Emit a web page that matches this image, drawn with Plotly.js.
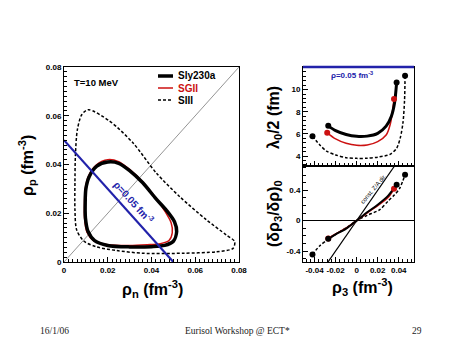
<!DOCTYPE html>
<html><head><meta charset="utf-8">
<script src="https://cdn.plot.ly/plotly-3.0.1.min.js"></script>
<style>html,body{margin:0;padding:0;background:#fff}#c{width:474px;height:355px}</style>
</head><body><div id="c"></div>
<script>
// ---- main panel: rho_p vs rho_n spinodal contours ----
const slyRn = [0.0100,0.0115,0.015,0.020,0.025,0.030,0.036,0.042,0.047,0.0505,0.0515,0.050,0.046,0.040,0.030,0.020,0.014,0.011,0.0098,0.0097,0.0100];
const slyRp = [0.030,0.035,0.0393,0.041,0.0405,0.0375,0.0325,0.026,0.021,0.0165,0.0125,0.0085,0.0068,0.0063,0.0062,0.0068,0.0088,0.0125,0.018,0.025,0.030];
const sgiiRn = [0.0097,0.0113,0.015,0.020,0.025,0.030,0.036,0.042,0.046,0.049,0.0495,0.048,0.044,0.038,0.030,0.020,0.0135,0.0105,0.0094,0.0094,0.0097];
const sgiiRp = [0.030,0.0355,0.040,0.042,0.0412,0.038,0.0328,0.0262,0.021,0.016,0.012,0.0088,0.0075,0.0071,0.0068,0.0071,0.0088,0.0122,0.018,0.025,0.030];
const siiiRn = [0.0111,0.021,0.0316,0.0423,0.0529,0.0651,0.0742,0.078,0.0773,0.0697,0.0545,0.036,0.024,0.0149,0.0092,0.0058,0.005,0.005,0.0052,0.0061,0.0081,0.0111];
const siiiRp = [0.0625,0.0577,0.0488,0.0364,0.0268,0.0173,0.0111,0.0084,0.0056,0.0042,0.0036,0.0036,0.0047,0.0062,0.0085,0.0131,0.0214,0.0323,0.0433,0.0542,0.0604,0.0625];
const diagX = [0, 0.08], diagY = [0, 0.08];
const isoX = [0, 0.05], isoY = [0.05, 0];

// ---- right top: lambda0/2 vs rho3 ----
const lamSlyX = [-0.027,-0.02,-0.01,0,0.01,0.02,0.028,0.033,0.036,0.038];
const lamSlyY = [6.73,6.3,5.95,5.78,5.8,6.05,6.7,7.6,8.8,10.66];
const lamSgX = [-0.028,-0.02,-0.01,0,0.01,0.02,0.028,0.032,0.0355];
const lamSgY = [6.1,5.55,5.15,4.97,5.0,5.3,5.9,6.9,9.15];
const lamS3X = [-0.042,-0.035,-0.0286,-0.02,-0.01,0,0.01,0.02,0.0317,0.038,0.0415,0.044,0.0455,0.046];
const lamS3Y = [5.8,5.0,4.45,4.1,3.85,3.79,3.8,3.9,4.15,4.7,5.67,7.0,9.0,11.25];

// ---- right bottom: (d rho3 / d rho)_0 vs rho3 ----
const dirSlyX = [-0.027,-0.02,-0.01,0,0.01,0.02,0.03,0.038];
const dirSlyY = [-0.24,-0.18,-0.105,0,0.11,0.21,0.33,0.474];
const dirSgX = [-0.027,-0.02,-0.01,0,0.01,0.02,0.03,0.0355];
const dirSgY = [-0.235,-0.175,-0.1,0,0.105,0.2,0.31,0.42];
const dirS3X = [-0.042,-0.035,-0.027,-0.02,-0.01,0,0.01,0.022,0.03,0.036,0.041,0.046];
const dirS3Y = [-0.447,-0.33,-0.245,-0.18,-0.095,0,0.07,0.145,0.26,0.34,0.43,0.605];
const zaX = [-0.029, 0.036], zaY = [-0.58, 0.72];

const BLK = '#000', RED = '#cc1111', BLUE = '#2222aa';
const DASH = '3px,2px';
const ends = a => [a[0], a[a.length-1]];
function line(x,y,color,width,dash,xa,ya,shape){
  return {x:x,y:y,mode:'lines',type:'scatter',xaxis:xa,yaxis:ya,showlegend:false,hoverinfo:'skip',
    line:{color:color,width:width,dash:dash||'solid',shape:shape||'spline',smoothing:0.8}};
}
function dots(x,y,color,xa,ya){
  return {x:ends(x),y:ends(y),mode:'markers',type:'scatter',xaxis:xa,yaxis:ya,showlegend:false,hoverinfo:'skip',
    marker:{color:color,size:6}};
}
const traces = [
  line(diagX,diagY,'#666',0.7,'solid','x','y','linear'),
  line(siiiRn,siiiRp,BLK,1.5,DASH,'x','y'),
  line(sgiiRn,sgiiRp,RED,1.5,'solid','x','y'),
  line(slyRn,slyRp,BLK,3.5,'solid','x','y'),
  line(isoX,isoY,BLUE,2.2,'solid','x','y','linear'),

  line(lamS3X,lamS3Y,BLK,1.5,DASH,'x2','y2'),
  line(lamSgX,lamSgY,RED,1.5,'solid','x2','y2'),
  line(lamSlyX,lamSlyY,BLK,3,'solid','x2','y2'),
  dots(lamS3X,lamS3Y,BLK,'x2','y2'),
  dots(lamSgX,lamSgY,RED,'x2','y2'),
  dots(lamSlyX,lamSlyY,BLK,'x2','y2'),

  line(zaX,zaY,BLK,1.2,'solid','x3','y3','linear'),
  line(dirS3X,dirS3Y,BLK,1.5,DASH,'x3','y3'),
  line(dirSgX,dirSgY,RED,1.8,'solid','x3','y3'),
  line(dirSlyX,dirSlyY,BLK,2,'solid','x3','y3'),
  dots(dirS3X,dirS3Y,BLK,'x3','y3'),
  dots(dirSgX,dirSgY,RED,'x3','y3'),
  dots(dirSlyX,dirSlyY,BLK,'x3','y3')
];

const W = 474, H = 355;
const px = v => v / W, py = v => 1 - v / H;
const tickFont = {family:'Liberation Sans, Arial, sans-serif', size:8, color:'#000', weight:'bold'};
function ax(extra){
  return Object.assign({showline:true, linecolor:'#000', linewidth:1, mirror:true, ticks:'inside',
    ticklen:5, tickwidth:1, tickcolor:'#000', showgrid:false, zeroline:false, tickfont:tickFont,
    fixedrange:true}, extra);
}
const mainDom = [px(64), px(239)];
const rDom = [px(303), px(414)];
const layout = {
  width:W, height:H, margin:{l:0,r:0,t:0,b:0}, paper_bgcolor:'#fff', plot_bgcolor:'#fff', showlegend:false,
  xaxis: ax({domain:mainDom, anchor:'y', range:[0,0.08], tickvals:[0,0.02,0.04,0.06,0.08], ticktext:['0','0.02','0.04','0.06','0.08'],
    minor:{dtick:0.002, ticks:'inside', ticklen:3, tickcolor:'#000'}}),
  yaxis: ax({domain:[py(262), py(67)], anchor:'x', range:[0,0.08], tickvals:[0,0.02,0.04,0.06,0.08], ticktext:['0','0.02','0.04','0.06','0.08'],
    minor:{dtick:0.002, ticks:'inside', ticklen:3, tickcolor:'#000'}}),
  xaxis2: ax({domain:rDom, anchor:'y2', range:[-0.051,0.0545], tickvals:[-0.04,-0.02,0,0.02,0.04], showticklabels:false,
    minor:{dtick:0.004, ticks:'inside', ticklen:3, tickcolor:'#000'}}),
  yaxis2: ax({domain:[py(166), py(67)], anchor:'x2', range:[3.1,12.05], tickvals:[4,6,8,10], ticktext:['4','6','8','10'],
    minor:{dtick:0.4, ticks:'inside', ticklen:3, tickcolor:'#000'}}),
  xaxis3: ax({domain:rDom, anchor:'y3', range:[-0.051,0.0545], tickvals:[-0.04,-0.02,0,0.02,0.04], ticktext:['-0.04','-0.02','0','0.02','0.04'],
    minor:{dtick:0.004, ticks:'inside', ticklen:3, tickcolor:'#000'}}),
  yaxis3: ax({domain:[py(262), py(166)], anchor:'x3', range:[-0.545,0.72], tickvals:[-0.4,0,0.4], ticktext:['-0.4','0','0.4'],
    zeroline:true, zerolinecolor:'#000', zerolinewidth:1,
    minor:{dtick:0.1, ticks:'inside', ticklen:3, tickcolor:'#000'}}),
  shapes: [
    {type:'line', xref:'paper', yref:'paper', x0:rDom[0], x1:rDom[1], y0:py(67), y1:py(67), line:{color:BLUE, width:2.5}},
    {type:'line', xref:'paper', yref:'paper', x0:px(158), x1:px(173), y0:py(76), y1:py(76), line:{color:BLK, width:3.5}},
    {type:'line', xref:'paper', yref:'paper', x0:px(158), x1:px(173), y0:py(88), y1:py(88), line:{color:RED, width:1.5}},
    {type:'line', xref:'paper', yref:'paper', x0:px(158), x1:px(173), y0:py(100), y1:py(100), line:{color:BLK, width:1.5, dash:DASH}}
  ],
  annotations: []
};
const F = 'Liberation Sans, Arial, sans-serif';
function ann(text, x, y, size, opts){
  return Object.assign({text:text, x:px(x), y:py(y), xref:'paper', yref:'paper', showarrow:false,
    font:{family:F, size:size, color:'#000', weight:'bold'}, xanchor:'center', yanchor:'middle'}, opts||{});
}
const SERIF = {family:'Liberation Serif, Times New Roman, serif', size:9.5, color:'#222'};
layout.annotations.push(
  ann('ρ<sub>n</sub> (fm<sup>-3</sup>)', 152, 289, 16),
  ann('ρ<sub>p</sub> (fm<sup>-3</sup>)', 27, 166, 16, {textangle:-90}),
  ann('ρ<sub>3</sub> (fm<sup>-3</sup>)', 362, 287, 16),
  ann('λ<sub>0</sub>/2 (fm)', 274, 118, 16, {textangle:-90}),
  ann('(δρ<sub>3</sub>/δρ)<sub>0</sub>', 274, 214, 16, {textangle:-90}),
  ann('T=10 MeV', 72, 82, 9.5, {xanchor:'left'}),
  ann('Sly230a', 176, 76, 10, {xanchor:'left'}),
  ann('SGII', 176, 88, 10, {xanchor:'left', font:{family:F, size:10, color:RED, weight:'bold'}}),
  ann('SIII', 176, 100, 10, {xanchor:'left'}),
  ann('ρ=0.05 fm<sup>-3</sup>', 352, 75, 8, {font:{family:F, size:8, color:BLUE, weight:'bold'}}),
  {text:'ρ=0.05 fm<sup>-3</sup>', x:0.0318, y:0.0245, xref:'x', yref:'y', showarrow:false, textangle:48,
    font:{family:F, size:10, color:BLUE, weight:'bold'}},
  {text:'const. Z/A dir.', x:0.0158, y:0.42, xref:'x3', yref:'y3', showarrow:false, textangle:-50,
    font:{family:F, size:6, color:'#000'}},
  ann('16/1/06', 54, 331, 9.5, {font:SERIF}),
  ann('Eurisol Workshop @ ECT*', 237, 331, 9.5, {font:SERIF}),
  ann('29', 417, 331, 9.5, {font:SERIF})
);
Plotly.newPlot('c', traces, layout, {staticPlot:true, displayModeBar:false});
</script></body></html>
